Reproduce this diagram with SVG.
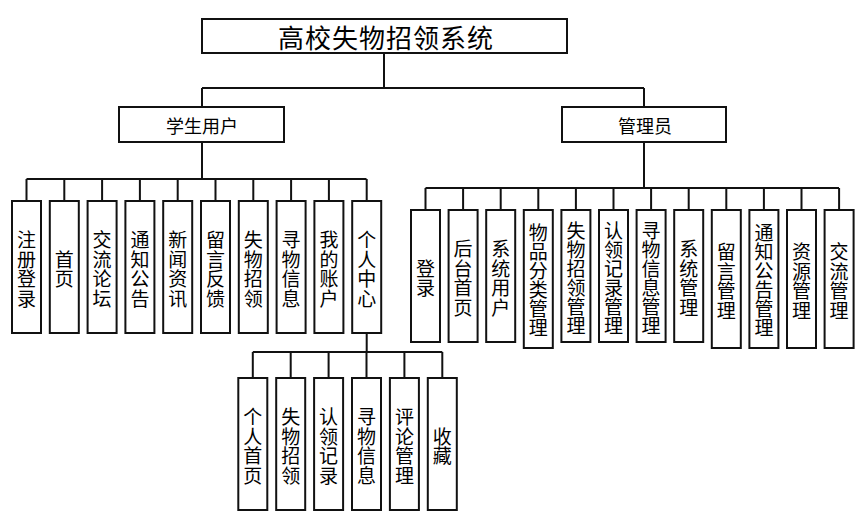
<svg xmlns="http://www.w3.org/2000/svg" width="868" height="522" viewBox="0 0 868 522">
<style>
.box{fill:#fff;stroke:#111;stroke-width:2}
.con{fill:none;stroke:#111;stroke-width:2}
text{font-family:"Noto Sans CJK SC","Noto Sans",sans-serif;fill:#000;text-anchor:middle;dominant-baseline:central}
.t1{font-size:26px;letter-spacing:1px}
.t2{font-size:18px}
.t3{font-size:19px}
</style>
<rect width="868" height="522" fill="#fff"/>
<g id="connectors" class="con">
<path d="M384 53V88M202 88H644M202 88V107M644 88V107"/>
<path d="M202 142V179M26.5 179H366.5M26.5 179V201M64.3 179V201M102.1 179V201M139.9 179V201M177.7 179V201M215.5 179V201M253.3 179V201M291.1 179V201M328.9 179V201M366.7 179V201"/>
<path d="M644 142V188M425.5 188H839M425.5 188V210M463.1 188V210M500.7 188V210M538.3 188V210M575.9 188V210M613.5 188V210M651.1 188V210M688.7 188V210M726.3 188V210M763.9 188V210M801.5 188V210M839.1 188V210"/>
<path d="M366.7 333V352M252.8 352H442.3M252.8 352V378M290.7 352V378M328.6 352V378M366.5 352V378M404.4 352V378M442.3 352V378"/>
</g>
<g id="root"><rect class="box" x="202" y="19" width="365" height="34"/><text class="t1" x="386" y="36">高校失物招领系统</text></g>
<g id="student"><rect class="box" x="119" y="107" width="165" height="35"/><text class="t2" x="202" y="124.5">学生用户</text></g>
<g id="admin"><rect class="box" x="562" y="107" width="164" height="35"/><text class="t2" x="645" y="124.5">管理员</text></g>

<g id="s1"><rect class="box" x="12" y="201" width="29" height="132"/><text class="t3"><tspan x="26.5" y="238">注</tspan><tspan x="26.5" y="257.5">册</tspan><tspan x="26.5" y="277">登</tspan><tspan x="26.5" y="296.5">录</tspan></text></g>
<g id="s2"><rect class="box" x="49.8" y="201" width="29" height="132"/><text class="t3"><tspan x="64.3" y="257.5">首</tspan><tspan x="64.3" y="277">页</tspan></text></g>
<g id="s3"><rect class="box" x="87.6" y="201" width="29" height="132"/><text class="t3"><tspan x="102.1" y="238">交</tspan><tspan x="102.1" y="257.5">流</tspan><tspan x="102.1" y="277">论</tspan><tspan x="102.1" y="296.5">坛</tspan></text></g>
<g id="s4"><rect class="box" x="125.4" y="201" width="29" height="132"/><text class="t3"><tspan x="139.9" y="238">通</tspan><tspan x="139.9" y="257.5">知</tspan><tspan x="139.9" y="277">公</tspan><tspan x="139.9" y="296.5">告</tspan></text></g>
<g id="s5"><rect class="box" x="163.2" y="201" width="29" height="132"/><text class="t3"><tspan x="177.7" y="238">新</tspan><tspan x="177.7" y="257.5">闻</tspan><tspan x="177.7" y="277">资</tspan><tspan x="177.7" y="296.5">讯</tspan></text></g>
<g id="s6"><rect class="box" x="201" y="201" width="29" height="132"/><text class="t3"><tspan x="215.5" y="238">留</tspan><tspan x="215.5" y="257.5">言</tspan><tspan x="215.5" y="277">反</tspan><tspan x="215.5" y="296.5">馈</tspan></text></g>
<g id="s7"><rect class="box" x="238.8" y="201" width="29" height="132"/><text class="t3"><tspan x="253.3" y="238">失</tspan><tspan x="253.3" y="257.5">物</tspan><tspan x="253.3" y="277">招</tspan><tspan x="253.3" y="296.5">领</tspan></text></g>
<g id="s8"><rect class="box" x="276.6" y="201" width="29" height="132"/><text class="t3"><tspan x="291.1" y="238">寻</tspan><tspan x="291.1" y="257.5">物</tspan><tspan x="291.1" y="277">信</tspan><tspan x="291.1" y="296.5">息</tspan></text></g>
<g id="s9"><rect class="box" x="314.4" y="201" width="29" height="132"/><text class="t3"><tspan x="328.9" y="238">我</tspan><tspan x="328.9" y="257.5">的</tspan><tspan x="328.9" y="277">账</tspan><tspan x="328.9" y="296.5">户</tspan></text></g>
<g id="s10"><rect class="box" x="352.2" y="201" width="29" height="132"/><text class="t3"><tspan x="366.7" y="238">个</tspan><tspan x="366.7" y="257.5">人</tspan><tspan x="366.7" y="277">中</tspan><tspan x="366.7" y="296.5">心</tspan></text></g>

<g id="a1"><rect class="box" x="411" y="210" width="29" height="132"/><text class="t3"><tspan x="425.5" y="266.5">登</tspan><tspan x="425.5" y="286">录</tspan></text></g>
<g id="a2"><rect class="box" x="448.6" y="210" width="29" height="132"/><text class="t3"><tspan x="463.1" y="247">后</tspan><tspan x="463.1" y="266.5">台</tspan><tspan x="463.1" y="286">首</tspan><tspan x="463.1" y="305.5">页</tspan></text></g>
<g id="a3"><rect class="box" x="486.2" y="210" width="29" height="132"/><text class="t3"><tspan x="500.7" y="247">系</tspan><tspan x="500.7" y="266.5">统</tspan><tspan x="500.7" y="286">用</tspan><tspan x="500.7" y="305.5">户</tspan></text></g>
<g id="a4"><rect class="box" x="523.8" y="210" width="29" height="138"/><text class="t3"><tspan x="538.3" y="231">物</tspan><tspan x="538.3" y="250">品</tspan><tspan x="538.3" y="269">分</tspan><tspan x="538.3" y="288">类</tspan><tspan x="538.3" y="307">管</tspan><tspan x="538.3" y="326">理</tspan></text></g>
<g id="a5"><rect class="box" x="561.4" y="210" width="29" height="132"/><text class="t3"><tspan x="575.9" y="228.5">失</tspan><tspan x="575.9" y="247.5">物</tspan><tspan x="575.9" y="266.5">招</tspan><tspan x="575.9" y="285.5">领</tspan><tspan x="575.9" y="304.5">管</tspan><tspan x="575.9" y="323.5">理</tspan></text></g>
<g id="a6"><rect class="box" x="599" y="210" width="29" height="132"/><text class="t3"><tspan x="613.5" y="228.5">认</tspan><tspan x="613.5" y="247.5">领</tspan><tspan x="613.5" y="266.5">记</tspan><tspan x="613.5" y="285.5">录</tspan><tspan x="613.5" y="304.5">管</tspan><tspan x="613.5" y="323.5">理</tspan></text></g>
<g id="a7"><rect class="box" x="636.6" y="210" width="29" height="132"/><text class="t3"><tspan x="651.1" y="228.5">寻</tspan><tspan x="651.1" y="247.5">物</tspan><tspan x="651.1" y="266.5">信</tspan><tspan x="651.1" y="285.5">息</tspan><tspan x="651.1" y="304.5">管</tspan><tspan x="651.1" y="323.5">理</tspan></text></g>
<g id="a8"><rect class="box" x="674.2" y="210" width="29" height="132"/><text class="t3"><tspan x="688.7" y="247">系</tspan><tspan x="688.7" y="266.5">统</tspan><tspan x="688.7" y="286">管</tspan><tspan x="688.7" y="305.5">理</tspan></text></g>
<g id="a9"><rect class="box" x="711.8" y="210" width="29" height="138"/><text class="t3"><tspan x="726.3" y="250">留</tspan><tspan x="726.3" y="269.5">言</tspan><tspan x="726.3" y="289">管</tspan><tspan x="726.3" y="308.5">理</tspan></text></g>
<g id="a10"><rect class="box" x="749.4" y="210" width="29" height="138"/><text class="t3"><tspan x="763.9" y="231">通</tspan><tspan x="763.9" y="250">知</tspan><tspan x="763.9" y="269">公</tspan><tspan x="763.9" y="288">告</tspan><tspan x="763.9" y="307">管</tspan><tspan x="763.9" y="326">理</tspan></text></g>
<g id="a11"><rect class="box" x="787" y="210" width="29" height="138"/><text class="t3"><tspan x="801.5" y="250">资</tspan><tspan x="801.5" y="269.5">源</tspan><tspan x="801.5" y="289">管</tspan><tspan x="801.5" y="308.5">理</tspan></text></g>
<g id="a12"><rect class="box" x="824.6" y="210" width="29" height="138"/><text class="t3"><tspan x="839.1" y="250">交</tspan><tspan x="839.1" y="269.5">流</tspan><tspan x="839.1" y="289">管</tspan><tspan x="839.1" y="308.5">理</tspan></text></g>

<g id="p1"><rect class="box" x="238.3" y="378" width="29" height="132"/><text class="t3"><tspan x="252.8" y="415">个</tspan><tspan x="252.8" y="434.5">人</tspan><tspan x="252.8" y="454">首</tspan><tspan x="252.8" y="473.5">页</tspan></text></g>
<g id="p2"><rect class="box" x="276.2" y="378" width="29" height="132"/><text class="t3"><tspan x="290.7" y="415">失</tspan><tspan x="290.7" y="434.5">物</tspan><tspan x="290.7" y="454">招</tspan><tspan x="290.7" y="473.5">领</tspan></text></g>
<g id="p3"><rect class="box" x="314.1" y="378" width="29" height="132"/><text class="t3"><tspan x="328.6" y="415">认</tspan><tspan x="328.6" y="434.5">领</tspan><tspan x="328.6" y="454">记</tspan><tspan x="328.6" y="473.5">录</tspan></text></g>
<g id="p4"><rect class="box" x="352" y="378" width="29" height="132"/><text class="t3"><tspan x="366.5" y="415">寻</tspan><tspan x="366.5" y="434.5">物</tspan><tspan x="366.5" y="454">信</tspan><tspan x="366.5" y="473.5">息</tspan></text></g>
<g id="p5"><rect class="box" x="389.9" y="378" width="29" height="132"/><text class="t3"><tspan x="404.4" y="415">评</tspan><tspan x="404.4" y="434.5">论</tspan><tspan x="404.4" y="454">管</tspan><tspan x="404.4" y="473.5">理</tspan></text></g>
<g id="p6"><rect class="box" x="427.8" y="378" width="29" height="132"/><text class="t3"><tspan x="442.3" y="434.5">收</tspan><tspan x="442.3" y="454">藏</tspan></text></g>
</svg>
